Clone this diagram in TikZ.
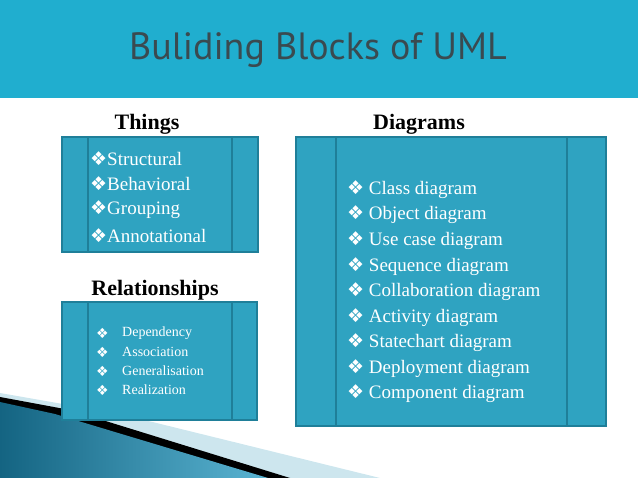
\documentclass[tikz,border=0pt]{standalone}
\usepackage{fontspec}
\setmainfont{Liberation Serif}
\newfontfamily\symf{DejaVu Sans}
\newfontfamily\titlef{PT Sans}
\definecolor{banner}{HTML}{20AECF}
\definecolor{boxfill}{HTML}{2FA3C1}
\definecolor{boxline}{HTML}{1F7F99}
\definecolor{titlec}{HTML}{3A4A50}
\newcommand{\dm}{{\symf\char"2756}}
\tikzset{
  blk/.style={draw=boxline,fill=boxfill,line width=1.5pt},
  sep/.style={draw=boxline,line width=1.5pt},
  hdr/.style={font=\bfseries\fontsize{22}{24}\selectfont,text=black},
  itm/.style={anchor=west,text=white,font=\fontsize{19}{21}\selectfont,inner sep=0},
  sitm/.style={anchor=west,text=white,font=\fontsize{14}{16}\selectfont,inner sep=0}
}
\begin{document}
\begin{tikzpicture}[x=1pt,y=-1pt]
\useasboundingbox (0,0) rectangle (638,478);
\fill[banner] (0,0) rectangle (638,98);
\node[text=titlec,font=\titlef\fontsize{38}{42}\selectfont] (title) at (318,50) {Buliding Blocks of UML};
% swoosh
\fill[color={rgb,255:red,205;green,230;blue,238}] (0,393) -- (120,414) -- (380,478) -- (0,478) -- cycle;
\fill[black] (0,397) -- (70,410) -- (290,478) -- (0,478) -- cycle;
\shade[left color={rgb,255:red,20;green,100;blue,130},right color={rgb,255:red,90;green,180;blue,210}] (0,402) -- (55,414) -- (268,478) -- (0,478) -- cycle;
% boxes
\draw[blk] (62,137) rectangle (258,252);
\draw[sep] (88,137) -- (88,252) (232,137) -- (232,252);
\draw[blk] (62,302) rectangle (257,420);
\draw[sep] (88,302) -- (88,420) (232,302) -- (232,420);
\draw[blk] (296,137) rectangle (606,426);
\draw[sep] (336,137) -- (336,426) (567,137) -- (567,426);
% headers
\node[hdr] (h1) at (147,124) {Things};
\node[hdr] (h2) at (419,124) {Diagrams};
\node[hdr] (h3) at (155,290) {Relationships};
% things
\node[itm] (t1) at (90,159) {\dm Structural};
\node[itm] (t2) at (90,184) {\dm Behavioral};
\node[itm] (t3) at (90,210) {\dm Grouping};
\node[itm] (t4) at (90,236) {\dm Annotational};
% relationships
\foreach \y/\t [count=\i] in {333/Dependency,352/Association,371/Generalisation,390/Realization}{
  \node[sitm] (rb\i) at (96,\y) {\dm};
  \node[sitm] (r\i) at (122,\y) {\t};
}
% diagrams
\foreach \y/\t [count=\i] in {190/Class diagram,215/Object diagram,241/Use case diagram,267/Sequence diagram,292/Collaboration diagram,318/Activity diagram,343/Statechart diagram,369/Deployment diagram,394/Component diagram}{
  \node[itm] (d\i) at (347,\y) {\dm\ \t};
}
\end{tikzpicture}
\end{document}
